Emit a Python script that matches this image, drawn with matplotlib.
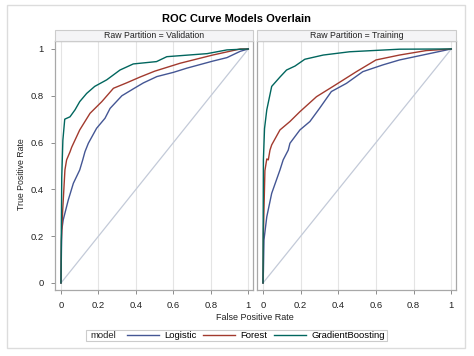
import matplotlib
matplotlib.use("Agg")
import matplotlib.pyplot as plt
import matplotlib.patches
from matplotlib.lines import Line2D

plt.rcParams['font.family'] = ['Liberation Sans', 'DejaVu Sans']

### data
panels = ["Validation", "Training"]
models = ["Logistic", "Forest", "GradientBoosting"]
colors = ["#445694", "#A23A2E", "#01665E"]

# Validation partition
val_log_fpr = [0, 0.002, 0.004, 0.012, 0.039, 0.066, 0.10, 0.116, 0.128, 0.146, 0.19, 0.235, 0.262, 0.325, 0.387, 0.44, 0.512, 0.60, 0.672, 0.81, 0.886, 0.957, 1]
val_log_tpr = [0, 0.12, 0.226, 0.27, 0.355, 0.426, 0.483, 0.526, 0.561, 0.597, 0.661, 0.704, 0.746, 0.80, 0.83, 0.855, 0.882, 0.90, 0.918, 0.948, 0.963, 0.99, 1]
val_for_fpr = [0, 0.002, 0.009, 0.021, 0.03, 0.048, 0.057, 0.10, 0.155, 0.218, 0.28, 0.35, 0.422, 0.5, 0.636, 0.81, 0.957, 1]
val_for_tpr = [0, 0.18, 0.31, 0.483, 0.526, 0.56, 0.58, 0.654, 0.725, 0.775, 0.832, 0.855, 0.88, 0.905, 0.939, 0.974, 1.0, 1]
val_gb_fpr = [0, 0.002, 0.004, 0.01, 0.02, 0.048, 0.075, 0.10, 0.137, 0.18, 0.244, 0.315, 0.386, 0.51, 0.565, 0.78, 0.886, 1]
val_gb_tpr = [0, 0.25, 0.45, 0.61, 0.70, 0.71, 0.74, 0.775, 0.81, 0.84, 0.868, 0.91, 0.936, 0.946, 0.967, 0.98, 0.996, 1]

# Training partition
tr_log_fpr = [0, 0.002, 0.005, 0.02, 0.046, 0.09, 0.107, 0.134, 0.143, 0.196, 0.249, 0.30, 0.363, 0.443, 0.53, 0.637, 0.725, 0.848, 1]
tr_log_tpr = [0, 0.05, 0.184, 0.283, 0.383, 0.483, 0.526, 0.568, 0.597, 0.654, 0.69, 0.746, 0.818, 0.853, 0.903, 0.932, 0.953, 0.974, 1]
tr_for_fpr = [0, 0.001, 0.002, 0.01, 0.02, 0.028, 0.037, 0.046, 0.09, 0.143, 0.196, 0.284, 0.372, 0.496, 0.60, 0.725, 0.866, 1]
tr_for_tpr = [0, 0.08, 0.21, 0.48, 0.53, 0.526, 0.568, 0.59, 0.654, 0.69, 0.732, 0.796, 0.84, 0.903, 0.953, 0.974, 0.993, 1]
tr_gb_fpr = [0, 0.001, 0.002, 0.008, 0.02, 0.046, 0.09, 0.125, 0.17, 0.222, 0.32, 0.46, 0.725, 1]
tr_gb_tpr = [0, 0.3, 0.526, 0.66, 0.74, 0.84, 0.88, 0.91, 0.927, 0.956, 0.974, 0.988, 0.999, 1]

curves = {
    "Validation": [(val_log_fpr, val_log_tpr), (val_for_fpr, val_for_tpr), (val_gb_fpr, val_gb_tpr)],
    "Training": [(tr_log_fpr, tr_log_tpr), (tr_for_fpr, tr_for_tpr), (tr_gb_fpr, tr_gb_tpr)],
}
ticks = [0, 0.2, 0.4, 0.6, 0.8, 1]
tick_labels = ["0", "0.2", "0.4", "0.6", "0.8", "1"]

W, H = 474, 356
fig = plt.figure(figsize=(W / 100, H / 100), dpi=100)

# light outer border like the SAS output
fig.add_artist(matplotlib.patches.Rectangle((7 / W, 1 - 348 / H), 458 / W, 343 / H,
               transform=fig.transFigure, fill=False, edgecolor="#dcdcdc", linewidth=1))

fig.text(237 / W, 1 - 19 / H, "ROC Curve Models Overlain", ha="center", va="center",
         fontsize=8, fontweight="bold")

frame_col = "#a8a8a8"
lefts = [55, 257]
widths = [198, 199]
axes = []
for i, name in enumerate(panels):
    ax = fig.add_axes([lefts[i] / W, 1 - 290 / H, widths[i] / W, 249 / H])
    axes.append(ax)
    # diagonal reference
    ax.plot([0, 1], [0, 1], color="#c3cad8", linewidth=0.9, zorder=2)
    for (fpr, tpr), c in zip(curves[name], colors):
        ax.plot(fpr, tpr, color=c, linewidth=1.0, zorder=3)
    ax.set_xlim(-0.032, 1.025)
    ax.set_ylim(-0.03, 1.034)
    ax.set_xticks(ticks)
    ax.set_xticklabels(tick_labels)
    ax.set_yticks(ticks)
    ax.set_yticklabels(tick_labels)
    ax.grid(axis="x", color="#e4e4e4", linewidth=0.8)
    ax.set_axisbelow(True)
    for s in ax.spines.values():
        s.set_color(frame_col)
        s.set_linewidth(0.9)
    ax.tick_params(length=3, width=0.7, color="#8c8c8c", labelsize=6.8, labelcolor="#222222", pad=5)
    if i == 1:
        ax.tick_params(axis="y", left=False, labelleft=False)

    # strip header
    strip = matplotlib.patches.Rectangle((lefts[i] / W, 1 - 41 / H), widths[i] / W, 11 / H,
                                         transform=fig.transFigure, facecolor="#f4f4f6",
                                         edgecolor="#cccccc", linewidth=0.8)
    fig.add_artist(strip)
    fig.text((lefts[i] + widths[i] / 2) / W, 1 - 35.5 / H, "Raw Partition = " + name,
             ha="center", va="center", fontsize=6.3, color="#222222")

fig.text(22 / W, 1 - 174 / H, "True Positive Rate", rotation=90, ha="center", va="center",
         fontsize=6.3, color="#222222")
fig.text(255 / W, 1 - 318 / H, "False Positive Rate", ha="center", va="center",
         fontsize=6.5, color="#222222")

# legend: box with "model" label then the three entries
fig.add_artist(matplotlib.patches.Rectangle((86 / W, 1 - 341 / H), 301 / W, 11 / H,
               transform=fig.transFigure, fill=False, edgecolor="#cccccc", linewidth=0.8))
fig.text(90 / W, 1 - 335.5 / H, "model", ha="left", va="center", fontsize=6.8, color="#222222")
handles = [Line2D([], [], color=c, linewidth=1.0) for c in colors]
fig.legend(handles, models, ncol=3, frameon=False, fontsize=6.8, handlelength=3.4,
           handletextpad=0.5, columnspacing=0.75, loc="center left",
           bbox_to_anchor=(127 / W, 1 - 335.5 / H), borderpad=0, borderaxespad=0)

fig.savefig("out.png", dpi=100)
